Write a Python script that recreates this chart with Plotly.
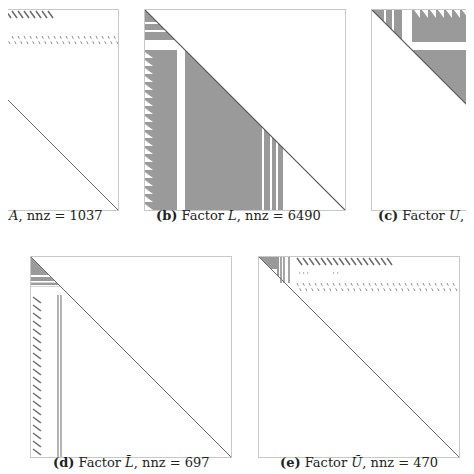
import plotly.graph_objects as go

N = 100
W = 474
panels = {
    "a": ((0, 110), (2, 202), (45, 100)),
    "b": ((137, 337), (2, 202), (0, 100)),
    "c": ((364, 474), (2, 202), (0, 55)),
    "d": ((23, 223), (249, 449), (0, 100)),
    "e": ((251, 451), (249, 449), (0, 100)),
}
captions = {
    "a": ("<b>(a)</b> Matrix <i>A</i>, nnz = 1037", 97, 207, "right"),
    "b": ("<b>(b)</b> Factor <i>L</i>, nnz = 6490", 230, 207, "center"),
    "c": ("<b>(c)</b> Factor <i>U</i>, nnz = 6490", 368, 207, "left"),
    "d": ("<b>(d)</b> Factor <i>L̄</i>, nnz = 697", 123, 454, "center"),
    "e": ("<b>(e)</b> Factor <i>Ū</i>, nnz = 470", 351, 454, "center"),
}
# structural descriptors (row/col indices)
dense_L_last_col = 69
dense_L_top = 20
L_white_cols = [[16, 20], [58.5, 59.5], [62.5, 63.5], [65.5, 66.5]]
L_top_block = 15
L_top_white_rows = [[6, 7], [10, 11], [15.5, 19.5]]
saw_rows = list(range(21, 100, 4))
d_block = 15
d_white_rows = [[9, 10], [12, 12.8], [14, 14.8]]
d_stroke_rows = list(range(20, 98, 4))
d_vlines = [13.5, 15]
e_block = 10
e_vlines = [11, 12.5, 15]
e_top_cols = list(range(19, 67, 3))
e_dot_cols = [20, 22, 24, 37, 39]
e_mid_cols = list(range(19, 99, 3))
a_top_cols = list(range(44, 67, 3))
a_mid_cols = list(range(44, 99, 3))

fig = go.Figure()
GRAY = "#9a9a9a"
LINE = "#6a6a6a"

def ax(name):
    i = "abcde".index(name) + 1
    return ("x" if i == 1 else f"x{i}"), ("y" if i == 1 else f"y{i}")

def poly(name, xs, ys, color):
    xa, ya = ax(name)
    fig.add_trace(go.Scatter(x=xs + [xs[0]], y=ys + [ys[0]], mode="lines", fill="toself",
                             fillcolor=color, line=dict(width=0, color=color),
                             xaxis=xa, yaxis=ya, hoverinfo="skip", showlegend=False))

def seg(name, x0, y0, x1, y1, width=1, color=LINE, dash="solid"):
    xa, ya = ax(name)
    fig.add_trace(go.Scatter(x=[x0, x1], y=[y0, y1], mode="lines",
                             line=dict(width=width, color=color, dash=dash),
                             xaxis=xa, yaxis=ya, hoverinfo="skip", showlegend=False))

def T(name, xs, ys, color, transpose):
    if transpose:
        poly(name, ys, xs, color)
    else:
        poly(name, xs, ys, color)

# L (b) and U (c, transpose)
for name, tr in (("b", False), ("c", True)):
    c1 = dense_L_last_col
    t = dense_L_top
    T(name, [0, t, c1, c1, 0], [t, t, c1, N, N], GRAY, tr)
    T(name, [0, L_top_block, 0], [0, L_top_block, L_top_block], GRAY, tr)
    for r0, r1 in L_top_white_rows:
        T(name, [0, r1, r1, 0], [r0, r0, r1, r1], "white", tr)
    for w0, w1 in L_white_cols:
        T(name, [w0, w1, w1, w0], [max(w0, t), max(w1, t), N, N], "white", tr)
    for r in saw_rows:
        T(name, [0, 4, 0], [r, r + 3, r + 3], "white", tr)
    seg(name, 0, 0, N, N, 1.2, "#555")

# L-bar (d)
poly("d", [0, d_block, 0], [0, d_block, d_block], GRAY)
for r0, r1 in d_white_rows:
    poly("d", [0, r1 + 1, r1 + 1, 0], [r0, r0, r1, r1], "white")
for r in d_stroke_rows:
    seg("d", 1, r, 5, r + 3, 1.5)
for c in d_vlines:
    seg("d", c, 19, c, N, 1)
seg("d", 0, 0, N, N)

# U-bar (e)
poly("e", [0, e_block, e_block], [0, 0, e_block], GRAY)
poly("e", [5, 9, 9, 5], [6, 6, 9, 9], "white")
for c in e_vlines:
    seg("e", c, 0, c, 13, 1.2)
for c in e_top_cols:
    seg("e", c, 0.5, c + 2.5, 4, 1.5)
for c in e_dot_cols:
    seg("e", c, 8, c + 0.6, 8, 1, "#777")
for c in e_mid_cols:
    seg("e", c, 13, c + 2.5, 18, 1, "#888", "dot")
seg("e", 0, 0, N, N)

# A (a)
for c in a_top_cols:
    seg("a", c, 0.5, c + 2.5, 4, 1.5)
for c in a_mid_cols:
    seg("a", c, 13, c + 2.5, 18, 1, "#888", "dot")
seg("a", 0, 0, N, N)

lay = dict(width=474, height=474, margin=dict(l=0, r=0, t=0, b=0),
           plot_bgcolor="white", paper_bgcolor="white", showlegend=False)
for name, ((x0, x1), (y0, y1), xr) in panels.items():
    i = "abcde".index(name) + 1
    xk = "xaxis" if i == 1 else f"xaxis{i}"
    yk = "yaxis" if i == 1 else f"yaxis{i}"
    ya = "y" if i == 1 else f"y{i}"
    xa = "x" if i == 1 else f"x{i}"
    lay[xk] = dict(domain=[x0 / W, x1 / W], range=list(xr), anchor=ya, showgrid=False,
                   zeroline=False, showticklabels=False, ticks="", showline=True,
                   mirror=True, linecolor="#c8c8c8", linewidth=1)
    yd = dict(domain=[1 - y1 / W, 1 - y0 / W], range=[N, 0], anchor=xa, showgrid=False,
              zeroline=False, showticklabels=False, ticks="", showline=True,
              linecolor="#c8c8c8", linewidth=1)
    if name == "a":
        yd.update(side="right", mirror=False)
    elif name == "c":
        yd.update(side="left", mirror=False)
    else:
        yd.update(mirror=True)
    lay[yk] = yd
fig.update_layout(**lay)
for name, (txt, x, y, anc) in captions.items():
    fig.add_annotation(text=txt, x=x / W, y=1 - y / W, xref="paper", yref="paper",
                       xanchor=anc, yanchor="middle", showarrow=False,
                       font=dict(family="DejaVu Serif", size=13, color="#222"))
fig.write_html("out.html")
